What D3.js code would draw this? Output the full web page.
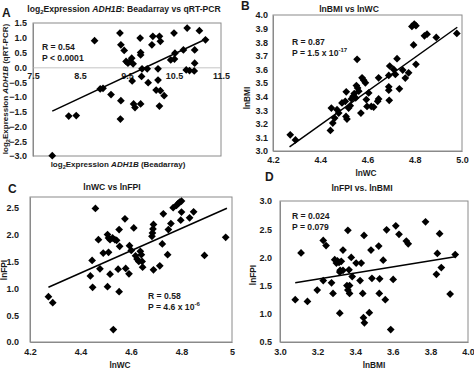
<!DOCTYPE html>
<html>
<head>
<meta charset="utf-8">
<script src="https://cdn.jsdelivr.net/npm/d3@7"></script>
<style>
  body { margin: 0; background: #fff; }
  svg text { font-family: "Liberation Sans", Arial, sans-serif; font-weight: bold; fill: #1a1a1a; }
</style>
</head>
<body>
<svg id="fig" width="474" height="370"></svg>
<script>
// Panel A: log2 expression, beadarray vs qRT-PCR
var beadarray = [8.81, 9.35, 9.37, 9.44, 9.48, 9.52, 9.57, 9.60, 9.63, 9.78, 9.79, 9.79, 9.82, 9.81, 9.61, 9.93, 9.95,
    10.05, 10.03, 10.19, 10.21, 10.16, 10.16, 10.12, 10.21, 10.29, 10.19, 9.16, 9.37, 9.64, 9.67, 9.79, 9.36, 8.93, 8.99,
    8.26, 8.42, 7.91, 10.50, 10.78, 11.04, 11.17, 10.52, 10.43, 10.51, 10.70, 10.94, 10.76, 10.83, 10.94, 10.93];
var qrtpcr = [0.90, 1.16, 0.76, 0.57, 0.20, 0.14, 0.20, 0.31, 0.12, 0.99, 0.42, 0.50, -0.05, -0.31, -0.46, -0.05, -0.52,
    1.05, 0.76, 1.05, 0.88, -0.05, -0.43, -0.77, -0.79, -0.96, -1.31, -0.92, -1.13, -1.24, -1.36, -1.24, -1.75, -0.73, -0.71,
    -1.65, -1.63, -2.99, 1.16, 1.33, 1.24, 0.93, 0.48, 0.25, 0.28, 0.59, 0.59, -0.09, -0.11, 0.14, -0.12];
var trendA = [[7.91, -1.48], [11.17, 0.95]];
var xTicksA = [7.5, 8.5, 9.5, 10.5, 11.5];
var yTicksA = [-3.0, -2.5, -2.0, -1.5, -1.0, -0.5, 0.0, 0.5, 1.0, 1.5];

// Panel B: lnBMI vs lnWC
var wcB = [4.273, 4.295, 4.443, 4.447, 4.453, 4.461, 4.471, 4.478, 4.492, 4.506, 4.510, 4.509, 4.513, 4.520, 4.527,
    4.532, 4.539, 4.544, 4.550, 4.553, 4.558, 4.556, 4.563, 4.572, 4.577, 4.584, 4.591, 4.595, 4.598, 4.605, 4.616,
    4.626, 4.643, 4.647, 4.647, 4.690, 4.690, 4.690, 4.692, 4.694, 4.711, 4.718, 4.725, 4.735, 4.749, 4.760, 4.774,
    4.788, 4.798, 4.805, 4.795, 4.805, 4.841, 4.852, 4.891, 4.978];
var bmiB = [3.119, 3.081, 3.151, 3.316, 3.205, 3.242, 3.304, 3.279, 3.353, 3.365, 3.435, 3.254, 3.235, 3.316, 3.333,
    3.383, 3.402, 3.422, 3.390, 3.481, 3.464, 3.674, 3.440, 3.279, 3.538, 3.521, 3.501, 3.378, 3.328, 3.427, 3.328,
    3.323, 3.365, 3.383, 3.538, 3.556, 3.472, 3.447, 3.373, 3.625, 3.600, 3.563, 3.679, 3.457, 3.595, 3.536, 3.575,
    3.916, 3.933, 3.921, 3.780, 3.637, 3.847, 3.859, 3.835, 3.864];
var trendB = [[4.27, 3.03], [4.98, 3.91]];
var xTicksB = [4.2, 4.4, 4.6, 4.8, 5.0];
var yTicksB = [3.0, 3.1, 3.2, 3.3, 3.4, 3.5, 3.6, 3.7, 3.8, 3.9, 4.0];

// Panel C: lnWC vs lnFPI
var wcC = [4.273, 4.290, 4.459, 4.471, 4.446, 4.439, 4.448, 4.477, 4.490, 4.507, 4.511, 4.517, 4.527, 4.536, 4.543,
    4.511, 4.507, 4.517, 4.530, 4.553, 4.555, 4.549, 4.553, 4.576, 4.579, 4.592, 4.594, 4.601, 4.611, 4.618, 4.624,
    4.631, 4.637, 4.641, 4.644, 4.646, 4.683, 4.685, 4.687, 4.689, 4.689, 4.714, 4.724, 4.728, 4.745, 4.748, 4.758,
    4.767, 4.780, 4.787, 4.793, 4.800, 4.800, 4.797, 4.832, 4.848, 4.891, 4.975];
var fpiC = [0.844, 0.731, 2.488, 1.906, 1.519, 1.231, 1.019, 1.363, 1.656, 2.000, 1.938, 1.906, 1.938, 1.906, 1.894,
    1.669, 1.031, 1.263, 0.231, 2.094, 1.781, 1.356, 0.938, 2.294, 1.369, 1.269, 1.794, 1.706, 2.125, 1.606, 1.544,
    1.500, 1.688, 1.625, 1.500, 1.394, 1.969, 2.031, 2.106, 2.188, 1.344, 1.419, 1.825, 2.388, 1.625, 2.094, 2.206,
    2.500, 2.544, 2.581, 2.606, 2.625, 2.419, 2.269, 2.313, 2.425, 1.613, 1.950];
var trendC = [[4.273, 1.02], [4.98, 2.49]];
var xTicksC = [4.2, 4.4, 4.6, 4.8, 5];
var yTicksC = [0.0, 0.5, 1.0, 1.5, 2.0, 2.5];

// Panel D: lnFPI vs lnBMI
var bmiD = [3.081, 3.112, 3.146, 3.198, 3.230, 3.245, 3.230, 3.274, 3.282, 3.291, 3.300, 3.305, 3.314, 3.318, 3.320,
    3.326, 3.335, 3.318, 3.335, 3.361, 3.356, 3.361, 3.370, 3.367, 3.370, 3.379, 3.384, 3.405, 3.432, 3.426, 3.440,
    3.444, 3.449, 3.447, 3.475, 3.484, 3.489, 3.525, 3.530, 3.528, 3.549, 3.560, 3.567, 3.589, 3.602, 3.616, 3.633,
    3.672, 3.682, 3.774, 3.832, 3.837, 3.849, 3.858, 3.905, 3.932];
var fpiD = [1.25, 2.08, 1.22, 1.42, 2.30, 2.21, 1.59, 1.55, 1.36, 1.96, 1.90, 1.94, 1.91, 1.74, 1.77,
    1.93, 1.77, 1.01, 2.13, 2.48, 1.50, 1.42, 1.36, 1.78, 1.50, 2.00, 1.66, 1.90, 1.90, 1.59, 1.36,
    0.93, 0.84, 2.39, 1.02, 2.13, 1.63, 2.20, 1.62, 1.36, 1.95, 1.25, 2.49, 0.72, 1.61, 2.56, 2.41,
    2.29, 2.24, 2.63, 1.70, 2.07, 2.42, 1.82, 1.35, 2.05];
var trendD = [[3.081, 1.55], [3.932, 2.01]];
var xTicksD = [3.0, 3.2, 3.4, 3.6, 3.8, 4.0];
var yTicksD = [0.5, 1.0, 1.5, 2.0, 2.5, 3.0];

var svg = d3.select('#fig');
var fmt1 = d3.format('.1f');

// text with sub/superscripts and italics: parts = [[text, kind], ...]
function richText(sel, parts, size) {
    sel.attr('font-size', size);
    parts.forEach(function (p, i) {
        var t = sel.append('tspan').text(p[0]);
        var prev = i > 0 ? parts[i - 1][1] : null;
        if (p[1] === 'sub') t.attr('font-size', size * 0.7).attr('dy', size * 0.25);
        else if (p[1] === 'sup') t.attr('font-size', size * 0.7).attr('dy', -size * 0.4);
        else {
            if (prev === 'sub') t.attr('dy', -size * 0.25);
            if (prev === 'sup') t.attr('dy', size * 0.4);
            if (p[1] === 'it') t.attr('font-style', 'italic');
        }
    });
    return sel;
}

function panel(o) {
    var x = d3.scaleLinear().domain(o.xDomain).range([o.left, o.right]);
    var y = d3.scaleLinear().domain(o.yDomain).range([o.bottom, o.top]);
    var g = svg.append('g');

    g.append('rect')
        .attr('x', o.left).attr('y', o.top)
        .attr('width', o.right - o.left).attr('height', o.bottom - o.top)
        .attr('fill', 'none').attr('stroke', '#8a8a8a').attr('stroke-width', 1);

    var yAxis = d3.axisLeft(y).tickValues(o.yTicks).tickSize(0).tickPadding(o.yPad)
        .tickFormat(fmt1);
    var ya = g.append('g').attr('transform', 'translate(' + o.left + ',0)').call(yAxis);
    ya.select('.domain').attr('stroke', '#8a8a8a');

    var xAxis = d3.axisBottom(x).tickValues(o.xTicks).tickSize(0).tickPadding(o.xPad)
        .tickFormat(o.xFormat || fmt1);
    var xa = g.append('g').attr('transform', 'translate(0,' + y(o.xAt) + ')').call(xAxis);
    xa.select('.domain').attr('stroke', o.xAt === o.yDomain[0] ? '#8a8a8a' : '#c4c4c4');

    g.selectAll('.tick text').attr('font-size', 9).attr('fill', '#1a1a1a')
        .attr('font-family', '"Liberation Sans", Arial, sans-serif');

    g.append('line')
        .attr('x1', x(o.trend[0][0])).attr('y1', y(o.trend[0][1]))
        .attr('x2', x(o.trend[1][0])).attr('y2', y(o.trend[1][1]))
        .attr('stroke', '#000').attr('stroke-width', 1.5);

    g.selectAll('path.pt')
        .data(d3.zip(o.xs, o.ys))
        .enter()
        .append('path')
        .attr('class', 'pt')
        .attr('d', d3.symbol(d3.symbolSquare, 30))
        .attr('transform', function (d) {
            return 'translate(' + x(d[0]) + ',' + y(d[1]) + ') rotate(45)';
        })
        .attr('fill', '#000');

    g.append('text').attr('x', o.letter[1]).attr('y', o.letter[2]).attr('font-size', 12).text(o.letter[0]);
    richText(g.append('text').attr('x', o.titlePos[0]).attr('y', o.titlePos[1])
        .attr('text-anchor', 'middle'), o.title, 8.6);
    richText(g.append('text').attr('x', o.xLabelPos[0]).attr('y', o.xLabelPos[1])
        .attr('text-anchor', 'middle'), o.xLabel, o.labelSize);
    richText(g.append('text')
        .attr('transform', 'translate(' + o.yLabelPos[0] + ',' + o.yLabelPos[1] + ') rotate(-90)')
        .attr('text-anchor', 'middle'), o.yLabel, o.labelSize);
    o.stats.forEach(function (s, i) {
        richText(g.append('text').attr('x', o.statsPos[0]).attr('y', o.statsPos[1] + i * 10.5), s, 8.6);
    });
}

panel({
    xs: beadarray, ys: qrtpcr, trend: trendA,
    xDomain: [7.5, 11.5], yDomain: [-3, 1.5], xTicks: xTicksA, yTicks: yTicksA, xAt: 0,
    left: 33, right: 221, top: 23, bottom: 156, yPad: 6, xPad: 5, labelSize: 8,
    letter: ['A', 2, 17], titlePos: [124, 12],
    title: [['log'], ['2', 'sub'], ['Expression '], ['ADH1B', 'it'], [': Beadarray vs qRT-PCR']],
    xLabelPos: [118, 167], xLabel: [['log'], ['2', 'sub'], ['Expression '], ['ADH1B', 'it'], [' (Beadarray)']],
    yLabelPos: [8, 89], yLabel: [['log'], ['2', 'sub'], ['Expression '], ['ADH1B', 'it'], [' (qRT-PCR)']],
    statsPos: [42, 50], stats: [[['R = 0.54']], [['P < 0.0001']]]
});

panel({
    xs: wcB, ys: bmiB, trend: trendB,
    xDomain: [4.2, 5.0], yDomain: [3.0, 4.0], xTicks: xTicksB, yTicks: yTicksB, xAt: 3.0,
    left: 273, right: 462, top: 15, bottom: 151, yPad: 5, xPad: 6, labelSize: 8.3,
    letter: ['B', 241, 10], titlePos: [349, 12], title: [['lnBMI vs lnWC']],
    xLabelPos: [366, 176], xLabel: [['lnWC']],
    yLabelPos: [250, 98], yLabel: [['lnBMI']],
    statsPos: [292, 45], stats: [[['R = 0.87']], [['P = 1.5 x 10'], ['-17', 'sup']]]
});

panel({
    xs: wcC, ys: fpiC, trend: trendC,
    xDomain: [4.2, 5.0], yDomain: [0, 2.7], xTicks: xTicksC, yTicks: yTicksC, xAt: 0,
    xFormat: function (d) { return d === 5 ? '5' : fmt1(d); },
    left: 30, right: 232, top: 197, bottom: 342, yPad: 11, xPad: 7, labelSize: 8.3,
    letter: ['C', 8, 193], titlePos: [112, 190], title: [['lnWC vs lnFPI']],
    xLabelPos: [120, 368], xLabel: [['lnWC']],
    yLabelPos: [7, 270], yLabel: [['lnFPI']],
    statsPos: [148, 299], stats: [[['R = 0.58']], [['P = 4.6 x 10'], ['-6', 'sup']]]
});

panel({
    xs: bmiD, ys: fpiD, trend: trendD,
    xDomain: [3.0, 4.0], yDomain: [0.5, 3.0], xTicks: xTicksD, yTicks: yTicksD, xAt: 0.5,
    left: 280, right: 468, top: 201, bottom: 342, yPad: 8, xPad: 7, labelSize: 8.3,
    letter: ['D', 265, 181], titlePos: [362, 191], title: [['lnFPI vs. lnBMI']],
    xLabelPos: [374, 368], xLabel: [['lnBMI']],
    yLabelPos: [256, 275], yLabel: [['lnFPI']],
    statsPos: [292, 219], stats: [[['R = 0.024']], [['P = 0.079']]]
});
</script>
</body>
</html>
